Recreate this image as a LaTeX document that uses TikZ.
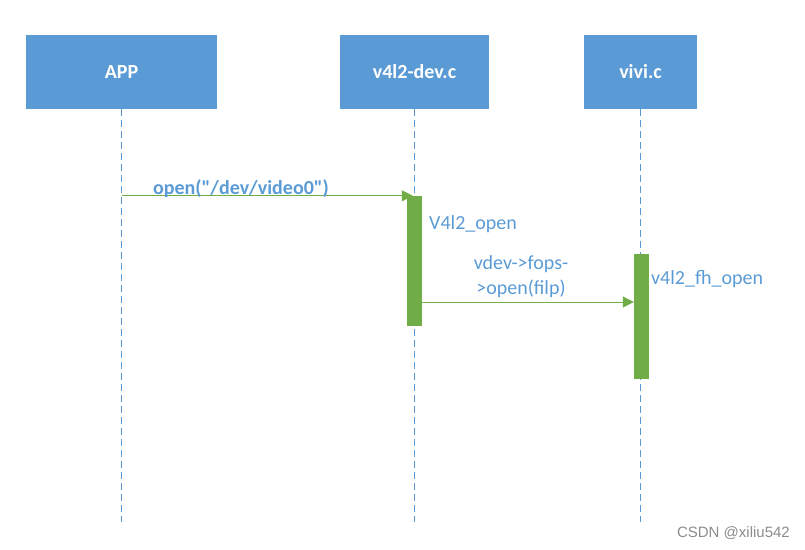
\documentclass[tikz,border=0pt]{standalone}
\usepackage{fontspec}
\setmainfont{Carlito}[Ligatures=TeXOff]
\newfontfamily\wmfont{Liberation Sans}
\usetikzlibrary{arrows.meta}
\usetikzlibrary{positioning}

\definecolor{boxblue}{HTML}{5B9BD5}
\definecolor{bargreen}{HTML}{70AD47}
\definecolor{textblue}{HTML}{5B9BD5}
\definecolor{wmgray}{HTML}{8C8C8C}

\tikzset{
  header/.style={fill=boxblue, text=white, font=\fontsize{20}{24}\selectfont\bfseries, minimum height=74pt, inner sep=0pt},
  lifeline/.style={boxblue, dash pattern=on 7pt off 4pt, line width=1pt},
  actbar/.style={fill=bargreen, minimum width=15pt, inner sep=0pt},
  msg/.style={bargreen, line width=1pt, -{Triangle[length=11pt,width=11pt]}},
  lbl/.style={text=textblue, font=\fontsize{20}{25}\selectfont, inner sep=0pt}
}

\begin{document}
\begin{tikzpicture}[x=1pt,y=-1pt]
        \useasboundingbox (0,0) rectangle (805,549);
        \coordinate (bottom) at (0,522);
        % heads
        \node[header, minimum width=191pt] (app) at (121.5,72) {APP};
        \node[header, minimum width=149pt] (dev) at (414.5,72) {v4l2-dev.c};
        \node[header, minimum width=113pt] (vivi) at (640.5,72) {vivi.c};
        % lifelines
        \draw[lifeline] (app.south) -- (app.south |- bottom);
        \draw[lifeline] (dev.south) -- (dev.south |- bottom);
        \draw[lifeline] (vivi.south) -- (vivi.south |- bottom);
        % activation bars
        \node[actbar, minimum height=130pt] (bar1) at (414.5,261) {};
        \node[actbar, minimum height=125pt] (bar2) at (641.5,316.5) {};
        % messages
        \coordinate (m2) at (0,302);
        \draw[msg, shorten >=-6pt] (app.south |- bar1.north) -- (bar1.north west);
        \draw[msg] (bar1.east |- m2) -- (bar2.west |- m2);
        \node[lbl, font=\fontsize{20}{24}\selectfont\bfseries] (l1) at (241,189) {open("/dev/video0")};
        \node[lbl, anchor=west] (l2) at (429,224) {V4l2\_open};
        \node[lbl, align=center] (l3) at (521,277) {vdev->fops-\\>open(filp)};
        \node[lbl, anchor=west] (l4) at (651,279) {v4l2\_fh\_open};
        \node[anchor=east, text=wmgray, font=\wmfont\fontsize{15}{18}\selectfont, inner sep=0pt] (wm) at (790,533) {CSDN @xiliu542};
\end{tikzpicture}
\end{document}
